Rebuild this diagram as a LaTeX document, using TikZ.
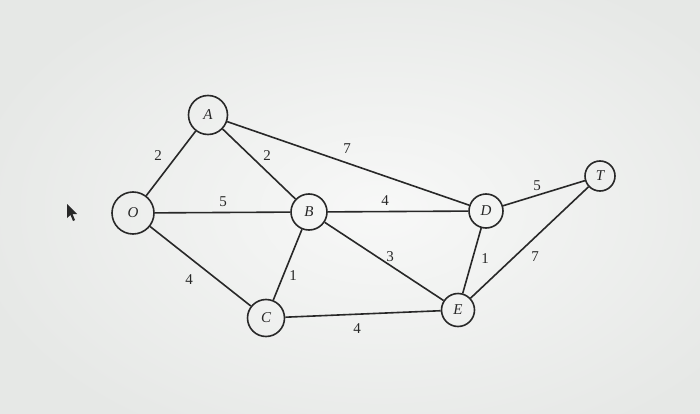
\documentclass[tikz,border=0pt]{standalone}
\usepackage{fontspec}
\setmainfont{Liberation Serif}
\definecolor{bg}{RGB}{230,232,230}
\definecolor{ink}{RGB}{40,40,40}
\tikzset{
  vtx/.style={circle,draw=ink,line width=1.6pt,inner sep=0pt,minimum size=#1,font=\fontsize{15}{17}\selectfont\itshape,text=ink},
  vtx/.default=38pt,
  edge/.style={draw=ink,line width=1.6pt},
  wt/.style={font=\fontsize{15}{17}\selectfont,text=ink,inner sep=1pt}
}
\begin{document}
\begin{tikzpicture}[x=1pt,y=-1pt]
\useasboundingbox (0,0) rectangle (700,414);
\begin{scope}
\clip (0,0) rectangle (700,414);
\fill[bg] (0,0) rectangle (700,414);
\shade[inner color=white!70!bg,outer color=bg] (380,210) ellipse (420 and 260);
\end{scope}
\node[vtx=42pt] (O) at (133,213) {O};
\node[vtx=39pt] (A) at (208,115) {A};
\node[vtx=36pt] (B) at (309,212) {B};
\node[vtx=37pt] (C) at (266,318) {C};
\node[vtx=34pt] (D) at (486,211) {D};
\node[vtx=33pt] (E) at (458,310) {E};
\node[vtx=30pt] (T) at (600,176) {T};
\draw[edge] (O) -- (A);
\draw[edge] (A) -- (B);
\draw[edge] (A) -- (D);
\draw[edge] (O) -- (B);
\draw[edge] (O) -- (C);
\draw[edge] (B) -- (C);
\draw[edge] (B) -- (D);
\draw[edge] (B) -- (E);
\draw[edge] (C) -- (E);
\draw[edge] (D) -- (E);
\draw[edge] (D) -- (T);
\draw[edge] (E) -- (T);
\node[wt] (w1) at (158,156) {2};
\node[wt] (w2) at (267,156) {2};
\node[wt] (w3) at (347,149) {7};
\node[wt] (w4) at (223,202) {5};
\node[wt] (w5) at (385,201) {4};
\node[wt] (w6) at (390,257) {3};
\node[wt] (w7) at (293,276) {1};
\node[wt] (w8) at (189,280) {4};
\node[wt] (w9) at (357,329) {4};
\node[wt] (w10) at (485,259) {1};
\node[wt] (w11) at (537,186) {5};
\node[wt] (w12) at (535,257) {7};
\fill[ink] (67,204) -- (67,218) -- (70.5,215) -- (73,221) -- (75,220) -- (72.5,214) -- (77,214) -- cycle;
\end{tikzpicture}
\end{document}
